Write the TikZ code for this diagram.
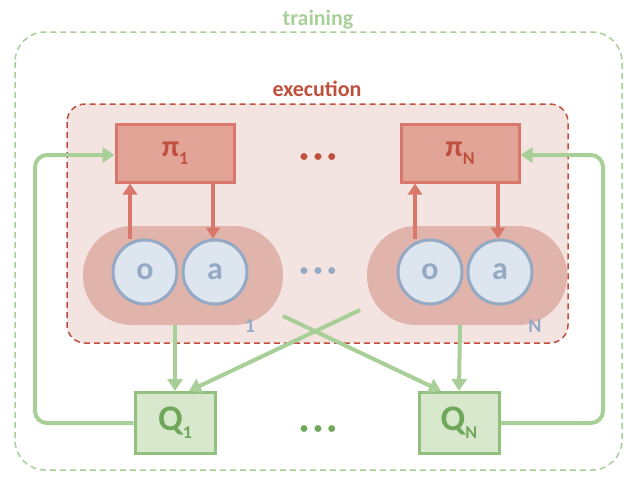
\documentclass[tikz,border=0pt]{standalone}
\usepackage{fontspec}
\setmainfont{Carlito}
\usetikzlibrary{arrows.meta}
\definecolor{grn}{HTML}{A9CF98}
\definecolor{grnb}{HTML}{92C07E}
\definecolor{grnfill}{HTML}{D8E8CD}
\definecolor{grntxt}{HTML}{6FA85A}
\definecolor{redd}{HTML}{C0503E}
\definecolor{redb}{HTML}{D9786A}
\definecolor{redfill}{HTML}{E2A497}
\definecolor{pink}{HTML}{F4E4E1}
\definecolor{pill}{HTML}{E0B3AB}
\definecolor{circ}{HTML}{DDE6EF}
\definecolor{circb}{HTML}{94AAC4}
\newcommand{\fs}[1]{\fontsize{#1}{#1}\selectfont\bfseries}
\newcommand{\dotrow}{\textbullet\hspace{6pt}\textbullet\hspace{6pt}\textbullet}
\tikzset{
  policy/.style={draw=redb, fill=redfill, line width=3pt, minimum width=118pt, minimum height=58pt, text=redd, font=\fs{30}},
  critic/.style={draw=grnb, fill=grnfill, line width=3pt, minimum width=80pt, minimum height=61pt, text=grntxt, font=\fs{36}},
  obs/.style={circle, draw=circb, fill=circ, line width=3pt, minimum size=64pt, text=circb, font=\fs{32}},
  agent/.style={rounded corners=49pt, fill=pill},
  dots/.style={font=\fs{16}},
  redarrow/.style={redb, line width=4pt, -{Triangle[length=11pt,width=14pt]}},
  grnarrow/.style={grn, line width=4pt, -{Triangle[length=12pt,width=15pt]}},
}
\begin{document}
\begin{tikzpicture}[x=1pt,y=-1pt]
  \useasboundingbox (0,0) rectangle (644,498);

  % training
  \draw[grn, line width=1.5pt, dash pattern=on 6pt off 4pt, rounded corners=30pt] (15,32) rectangle (622,470);
  \node[text=grn, font=\fs{22}] (train) at (318,20) {training};

  % execution
  \draw[redd, fill=pink, line width=1.5pt, dash pattern=on 6pt off 4pt, rounded corners=18pt] (67,104) rectangle (568,343);
  \node[text=redd, font=\fs{22}] (exec) at (317,89) {execution};

  % policies
  \node[policy] (pi1) at (175,153) {π\raisebox{-8pt}{\fs{18}1}};
  \node[policy] (piN) at (460,153) {π\raisebox{-8pt}{\fs{18}N}};
  \node[dots, text=redd] (pdots) at (318,158) {\dotrow};

  % agents
  \fill[agent] (83,226) rectangle (283,325);
  \fill[agent] (367,226) rectangle (567,325);
  \node[obs] (o1) at (145,272) {o};
  \node[obs] (a1) at (215,272) {a};
  \node[obs] (oN) at (430,272) {o};
  \node[obs] (aN) at (500,272) {a};
  \node[text=circb, font=\fs{20}] (l1) at (250,326) {1};
  \node[text=circb, font=\fs{20}] (lN) at (535,326) {N};
  \node[dots, text=circb] (adots) at (318,272) {\dotrow};
  \coordinate (g1) at (175,325);
  \coordinate (gN) at (460,325);
  \coordinate (c1) at (283,316);
  \coordinate (cN) at (360,310);

  \draw[redarrow] (o1.north -| 130,0) -- (pi1.south -| 130,0);
  \draw[redarrow] (pi1.south -| 213,0) -- (a1.north -| 213,0);
  \draw[redarrow] (oN.north -| 415,0) -- (piN.south -| 415,0);
  \draw[redarrow] (piN.south -| 498,0) -- (aN.north -| 498,0);

  % critics
  \node[critic] (q1) at (175,423) {Q\raisebox{-8pt}{\fs{18}1}};
  \node[critic] (qN) at (459,423) {Q\raisebox{-8pt}{\fs{18}N}};
  \node[dots, text=grntxt] (qdots) at (318,430) {\dotrow};

  \draw[grnarrow] (g1) -- (q1.north);
  \draw[grnarrow] (gN) -- (qN.north);
  \draw[grnarrow] (c1) -- ([xshift=-18pt]qN.north);
  \draw[grnarrow] (cN) -- ([xshift=14pt]q1.north);

  \draw[grnarrow, rounded corners=12pt] (q1.west) -- (35,423) -- (35,155) -- (pi1.west |- 0,155);
  \draw[grnarrow, rounded corners=12pt] (qN.east) -- (603,423) -- (603,155) -- (piN.east |- 0,155);
\end{tikzpicture}
\end{document}
